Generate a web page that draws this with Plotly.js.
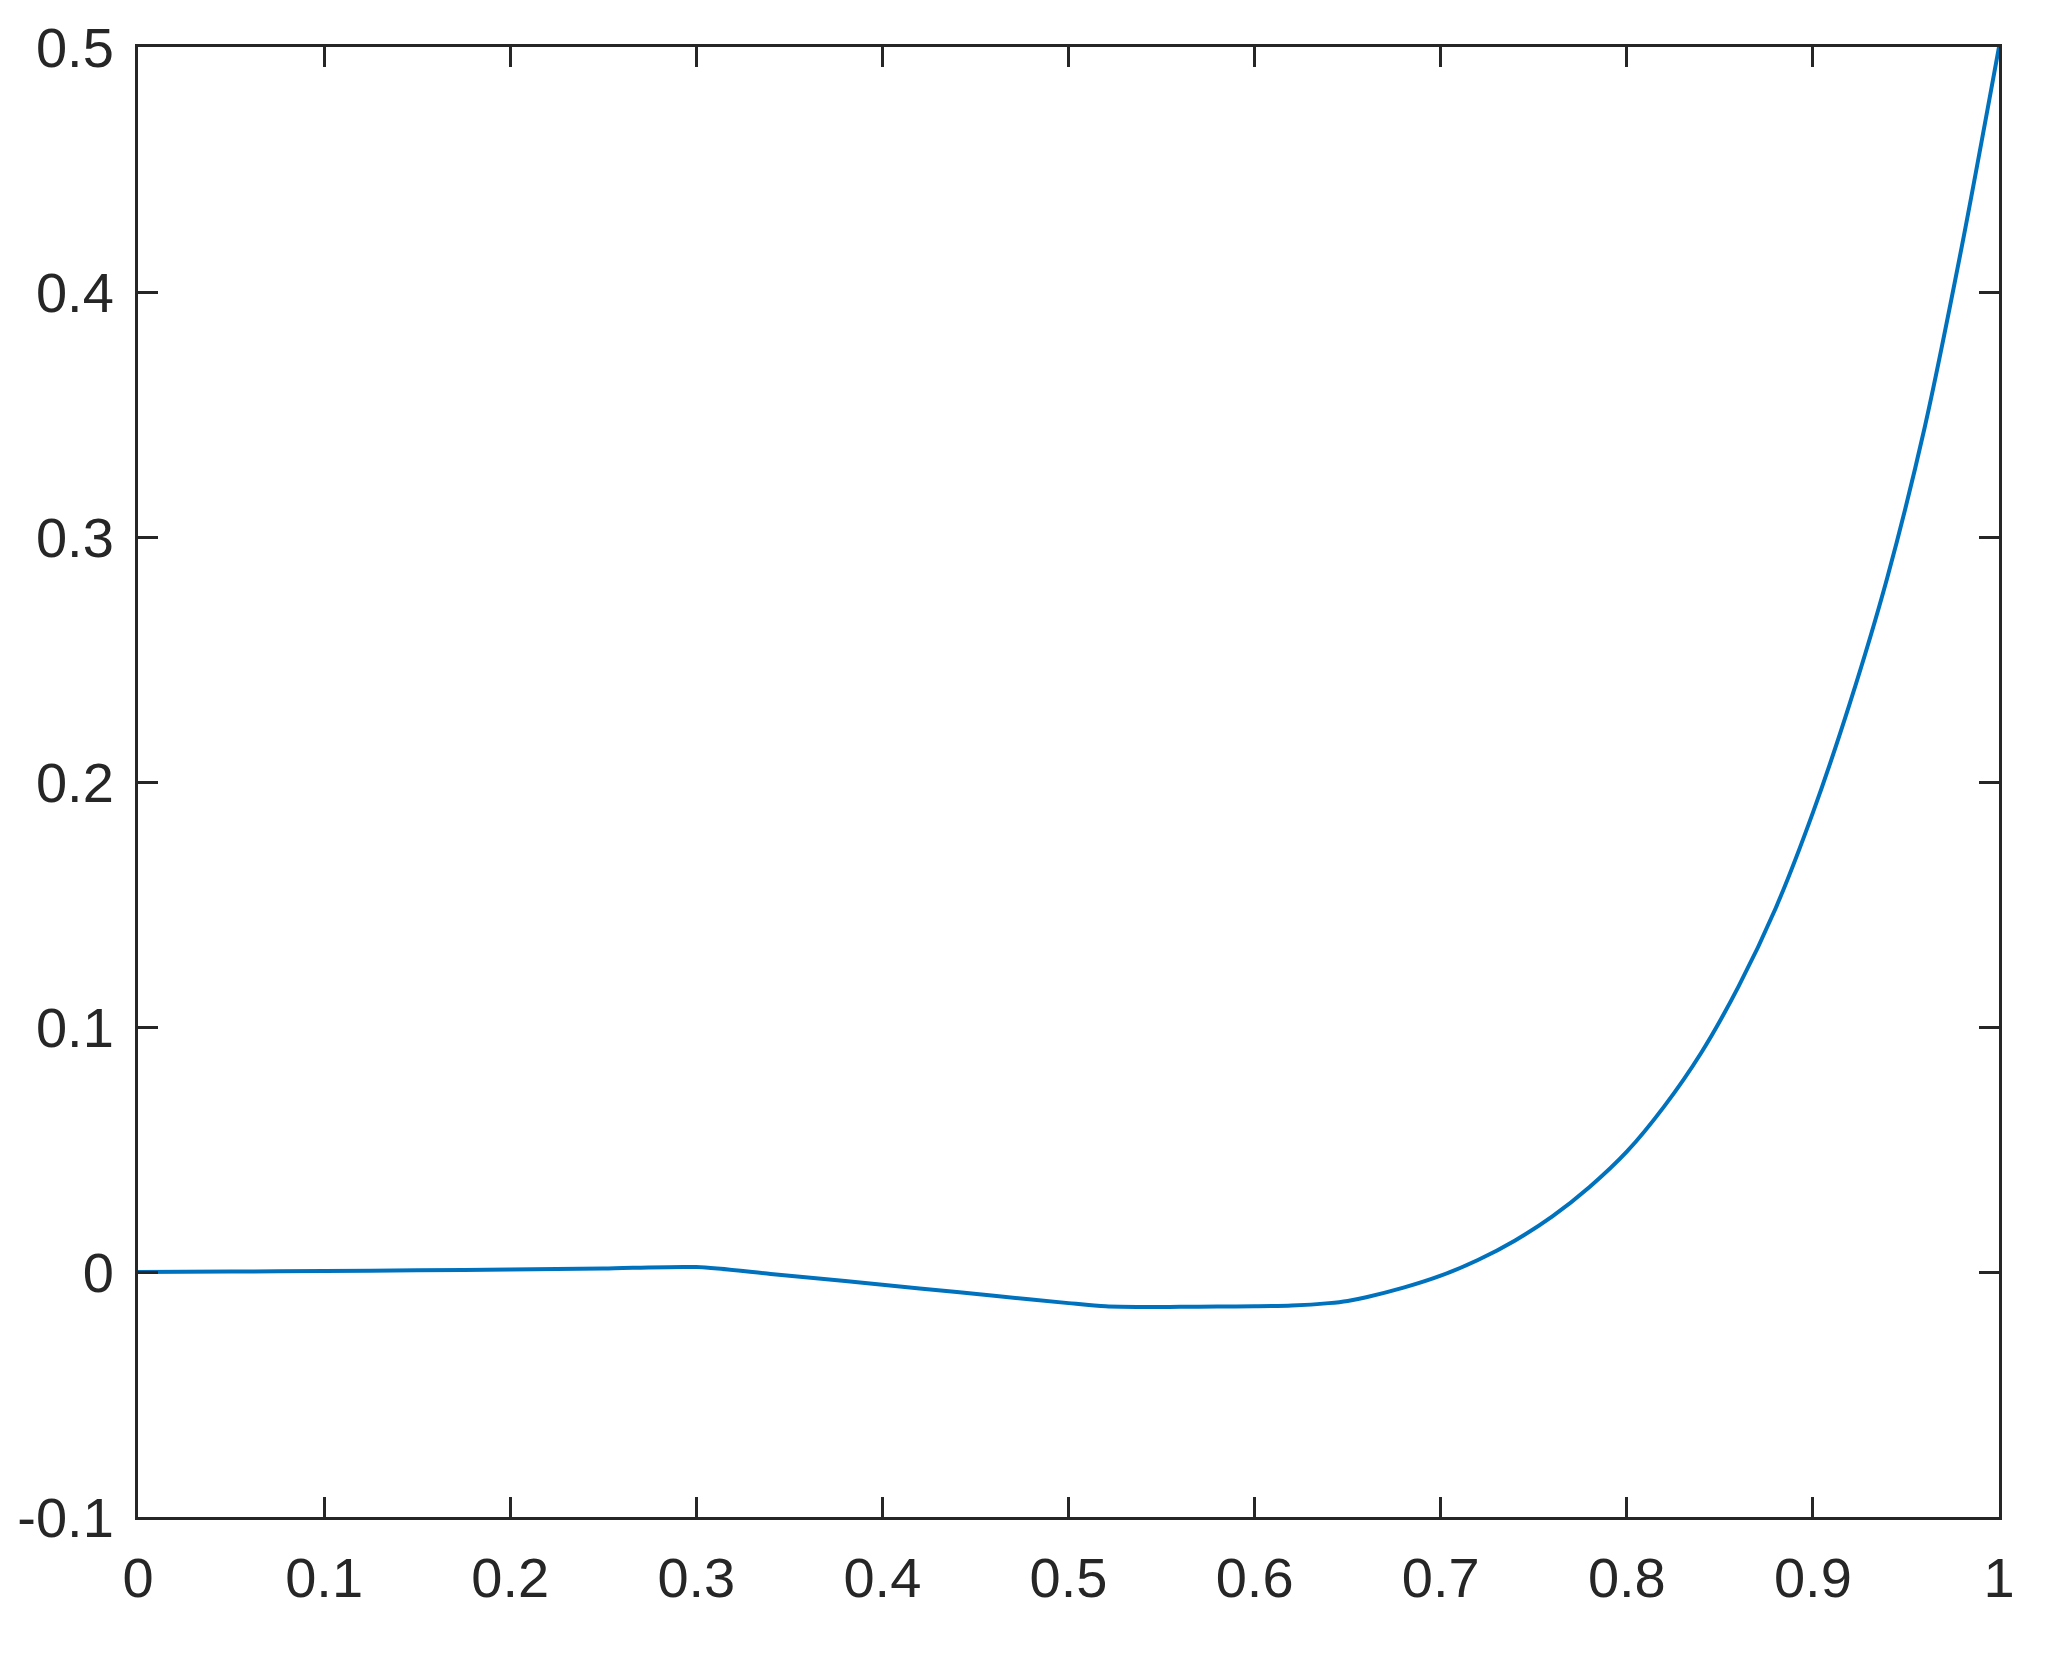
<!DOCTYPE html>
<html>
<head>
<meta charset="utf-8">
<script src="https://cdn.plot.ly/plotly-3.0.1.min.js"></script>
<style>
html,body{margin:0;padding:0;background:#fff;}
#chart{width:2047px;height:1661px;}
</style>
</head>
<body>
<div id="chart"></div>
<script>
const xValues = [0, 0.05, 0.1, 0.15, 0.2, 0.25, 0.3, 0.34, 0.38, 0.42, 0.46, 0.5, 0.52, 0.54, 0.56, 0.58, 0.6, 0.62, 0.64, 0.65, 0.66, 0.68, 0.7, 0.72, 0.74, 0.76, 0.78, 0.8, 0.82, 0.84, 0.86, 0.88, 0.9, 0.92, 0.94, 0.96, 0.98, 1.0];
const yValues = [0, 0.0002, 0.0004, 0.0007, 0.001, 0.0014, 0.002, -0.0008, -0.0037, -0.0067, -0.0097, -0.0127, -0.014, -0.0143, -0.0142, -0.0141, -0.014, -0.0137, -0.0127, -0.0118, -0.0103, -0.0064, -0.0015, 0.0049, 0.0129, 0.0227, 0.0347, 0.0491, 0.0675, 0.0895, 0.1165, 0.1485, 0.1875, 0.2325, 0.2835, 0.3445, 0.4185, 0.5];
const xTickVals = [0, 0.1, 0.2, 0.3, 0.4, 0.5, 0.6, 0.7, 0.8, 0.9, 1];
const xTickText = ["0", "0.1", "0.2", "0.3", "0.4", "0.5", "0.6", "0.7", "0.8", "0.9", "1"];
const yTickVals = [-0.1, 0, 0.1, 0.2, 0.3, 0.4, 0.5];
const yTickText = ["-0.1", "0", "0.1", "0.2", "0.3", "0.4", "0.5"];

const axisCommon = {
  showline: true, linewidth: 3, linecolor: '#262626', mirror: 'ticks',
  ticks: 'inside', ticklen: 20, tickwidth: 3, tickcolor: '#262626',
  showgrid: false, zeroline: false, tickmode: 'array',
  tickfont: {family: 'Liberation Sans, Arial, sans-serif', size: 56, color: '#262626'}
};

const trace = {
  x: xValues, y: yValues, type: 'scatter', mode: 'lines',
  line: {color: '#0072BD', width: 4, shape: 'spline', smoothing: 0.8},
  hoverinfo: 'skip'
};

const layout = {
  width: 2047, height: 1661,
  margin: {l: 138, r: 48, t: 47, b: 144, pad: 0},
  paper_bgcolor: '#ffffff', plot_bgcolor: '#ffffff',
  showlegend: false,
  xaxis: Object.assign({}, axisCommon, {range: [0, 1], tickvals: xTickVals, ticktext: xTickText, ticklabelstandoff: 10}),
  yaxis: Object.assign({}, axisCommon, {range: [-0.1, 0.5], tickvals: yTickVals, ticktext: yTickText, ticklabelstandoff: 10})
};

Plotly.newPlot('chart', [trace], layout, {displayModeBar: false, staticPlot: true});
</script>
</body>
</html>
